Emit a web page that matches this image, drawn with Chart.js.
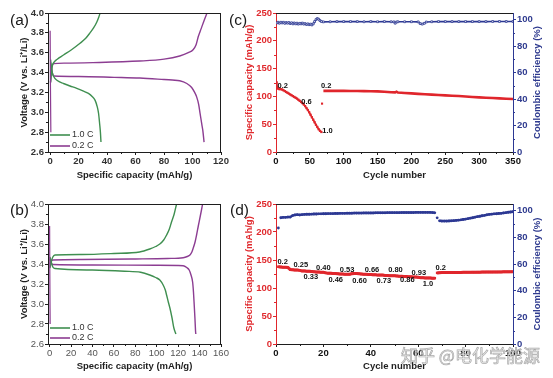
<!DOCTYPE html>
<html><head><meta charset="utf-8">
<script src="https://cdn.jsdelivr.net/npm/chart.js@4.4.1/dist/chart.umd.min.js"></script>
<style>
html,body{margin:0;padding:0;background:#fff;}
body{position:relative;width:553px;height:378px;overflow:hidden;font-family:'Liberation Sans',Arial,sans-serif;}
canvas{position:absolute;}
.pl{position:absolute;font-size:15.5px;line-height:18px;color:#1a1a1a;}
#wm{position:absolute;left:401px;top:344px;font-family:'Noto Sans CJK SC',sans-serif;font-size:17px;line-height:22px;color:rgba(235,235,235,0.85);-webkit-text-stroke:0.7px rgba(150,150,150,0.8);white-space:nowrap;}
</style></head><body>
<canvas id="ca" width="240" height="190" style="left:0;top:0"></canvas>
<canvas id="cb" width="240" height="188" style="left:0;top:190px"></canvas>
<canvas id="cc" width="323" height="190" style="left:230px;top:0"></canvas>
<canvas id="cd" width="323" height="188" style="left:230px;top:190px"></canvas>
<div class="pl" style="left:10px;top:11px">(a)</div>
<div class="pl" style="left:10px;top:201px">(b)</div>
<div class="pl" style="left:229px;top:11px">(c)</div>
<div class="pl" style="left:230px;top:201px">(d)</div>
<div id="wm">知乎 @电化学能源</div>
<script>
// ---------- DATA ----------
// (a) voltage profiles: capacity (mAh/g) and voltage (V)
const aG_chgCap = [0.3,1.2,2.5,5,9.4,15,21,25,28,30.5,32.8,34.2,35.1];
const aG_chgV   = [3.30,3.45,3.50,3.535,3.577,3.63,3.695,3.745,3.80,3.85,3.91,3.96,4.0];
const aG_disCap = [0.3,1.2,2.5,5,9.4,14,18.7,23,26.9,29.5,31.6,33,34,34.8,35.3,35.7];
const aG_disV   = [3.53,3.42,3.36,3.32,3.29,3.265,3.24,3.215,3.19,3.16,3.12,3.06,2.99,2.88,2.80,2.70];
const aP_chgCap = [0.3,1,2.5,10,30,63,80,91,97,100.4,102.5,104,106,107.5,110.2];
const aP_chgV   = [3.30,3.42,3.49,3.495,3.50,3.516,3.535,3.567,3.60,3.63,3.68,3.76,3.84,3.90,4.0];
const aP_disCap = [0.3,1.2,2.5,20,45,63,80,91,96,99.4,101.5,102.9,104.3,105.3,106.5,107.2,108.1];
const aP_disV   = [3.50,3.42,3.365,3.36,3.352,3.345,3.33,3.318,3.29,3.25,3.2,3.155,3.08,2.99,2.88,2.82,2.70];
const aP_spikeCap = [0,0.2,0.5];
const aP_spikeV   = [3.82,3.3,2.80];
// (b)
const bG_chgCap = [0.3,1.5,3,5,30,60,84,93.5,99,102.9,106.5,109.2,111.8,113.8,116.3,118.5];
const bG_chgV   = [3.36,3.42,3.47,3.49,3.495,3.505,3.52,3.55,3.575,3.60,3.64,3.69,3.75,3.82,3.90,4.0];
const bG_disCap = [0.3,1.5,3,5,40,70,85,93.5,99,102.9,106,108,109.2,110.8,112.3,114.3,116,117.9];
const bG_disV   = [3.47,3.42,3.37,3.355,3.34,3.328,3.317,3.29,3.265,3.24,3.19,3.14,3.09,3.02,2.96,2.86,2.76,2.70];
const bP_chgCap = [0.3,1.5,3,30,80,110,124.7,128.5,131,132.8,134.1,135.8,137.2,138.8,140.3,141.6,142.8];
const bP_chgV   = [3.40,3.43,3.44,3.445,3.45,3.455,3.463,3.475,3.49,3.52,3.56,3.62,3.69,3.78,3.86,3.93,4.0];
const bP_disCap = [0.3,1.5,3,40,100,124.7,128,130.3,132,133.5,134.3,135,135.7,136.3,136.5];
const bP_disV   = [3.45,3.41,3.395,3.39,3.387,3.383,3.365,3.34,3.29,3.22,3.12,2.99,2.85,2.72,2.70];
const bP_spikeCap = [0,0.2,0.5];
const bP_spikeV   = [3.78,3.3,2.80];
const legendLabels = ['1.0 C','0.2 C'];

// (c) long cycling
const cRedCycles1 = [1,2,3,5,7,9,11,13,15,17,19,21,23,25,27,29,31,33,35,37,39,41,43,45,47,49,51,53,55,57,59,61,63,65,67];
const cRedCap1    = [125,116,114,113,113,112.5,111,109.5,108,106.5,105,103.5,102,100.5,99,97.5,96,94,92,90,88,85.5,82.5,79,75.5,71.5,67,62.5,58,53.5,49,45,41,38,36];
const cOutCycle = [68];
const cOutCap   = [87];
const cRedCycles2 = [70,80,90,100,110,120,130,140,150,160,170,176,178,180,190,200,210,220,230,240,250,260,270,280,290,300,310,320,330,340,350];
const cRedCap2    = [110,110,110,110,109.8,109.6,109.4,109.2,109,108.4,107.6,107.2,108.5,107,106.2,105.4,104.6,104,103.2,102.5,101.8,101.2,100.6,99.8,99,98.3,97.6,97,96.4,95.8,95.3];
const cCECycles = [1,3,5,7,9,11,13,15,17,19,21,23,25,27,29,31,33,35,37,39,41,43,45,47,49,51,53,55,57,59,61,63,65,67,70,80,90,100,110,120,130,140,150,160,170,174,176,178,180,190,200,210,213,216,219,222,230,240,250,260,270,280,290,300,310,320,330,340,350];
const cCE = [97.5,98,97.3,98,97.5,98,97.2,97.8,97.3,97.8,97,97.6,96.8,97.5,96.8,97.3,96.6,97.2,96.8,97.4,96.6,97,96.3,96.8,96.2,96.6,96,96.8,98.5,100,100.8,100.3,99.3,98.6,98.3,98.4,98.5,98.5,98.5,98.5,98.4,98.5,98.4,98.5,98.4,98.3,97.3,98.2,98.4,98.4,98.4,98.3,97,96.6,97.2,98.2,98.4,98.5,98.5,98.5,98.5,98.5,98.5,98.5,98.5,98.6,98.6,98.6,98.6];
const cRateText  = ['0.2','0.6','1.0','0.2'];
const cRateCycle = [10,45,76,74];
const cRateCap   = [119,90,37,119];

// (d) rate test
const dCycles = Array.from({length:100},(_,i)=>i+1);
const dCap = [138,137.5,137,137,136.5, 133,132.5,132,132,131.5, 130.5,130.5,130,130,129.5, 129,128.5,128.5,128,128,
  127,126.5,126.5,126,126, 125.5,125,125,124.5,124.5, 124.5,125.5,126,126,125.5, 125,124.5,124.5,124,124,
  123.5,123.5,123,123,123, 122.5,122.5,122,122,122, 121.5,121,121,120.5,120.5, 120,120,119.5,119.5,119,
  118.5,118.5,118,118,118,117.5,117.5,
  127,127.3,127.5,127.5,127.5,127.6,127.6,127.7,127.8,127.8,
  127.9,128,128,128,128.1,128.2,128.2,128.3,128.3,128.4,
  128.4,128.5,128.5,128.5,128.6,128.6,128.7,128.7,128.8,128.8,
  128.8,128.9,129];
const dCE = [87, 94.7,95.0,95.0,95.2,95.2, 96.3,96.8,97.0,96.8,
  97.0,97.2,97.3,97.3,97.4,97.5,97.5,97.6,97.6,97.7,
  97.7,97.8,97.8,97.8,97.9,97.9,98.0,98.0,98.0,98.1,
  98.1,98.1,98.2,98.2,98.2,98.2,98.3,98.3,98.3,98.3,
  98.3,98.4,98.4,98.4,98.4,98.4,98.5,98.5,98.5,98.5,
  98.5,98.5,98.6,98.6,98.6,98.6,98.6,98.6,98.7,98.7,
  98.7,98.7,98.7,98.7,98.7,98.6,98.4,
  94.6,
  92.4,92.2,92.2,92.2,92.3,92.4,92.5,92.7,92.9,93.1,93.4,93.7,
  94.0,94.4,94.7,95.1,95.5,95.8,96.2,96.5,96.9,97.2,
  97.4,97.6,97.7,97.9,98.0,98.3,98.5,98.8,99.0,99.2];
const dRateText  = ['0.2','0.25','0.33','0.40','0.46','0.53','0.60','0.66','0.73','0.80','0.86','0.93','1.0','0.2'];
const dRateCycle = [2.8,10.5,14.7,20,25.2,30,35.3,40.5,45.5,50.4,55.4,60.3,64.1,69.5];
const dRateCap   = [146,141,120,136,115,133,113,132,113,132,114,127,108,135];

// ---------- STYLE / BUILD ----------
const FONT = "'Liberation Sans', Arial, Helvetica, sans-serif";
Chart.defaults.font.family = FONT;
const GREEN='#3f8f50', PURPLE='#8c3d92', RED='#e0262c', BLUE='#2c3893', REDTXT='#e02a2e', BLUETXT='#2f3b8f', INK='#1e1e1e';

const pts = (xs, ys) => xs.map((x,i)=>({x, y: ys[i]}));
const f = (size, bold) => ({family: FONT, size, weight: bold ? 'bold' : 'normal'});

function drawMinor(ctx, scale, color){
  const t = scale.ticks;
  ctx.strokeStyle = color; ctx.lineWidth = 1;
  ctx.beginPath();
  for (let i = 0; i < t.length - 1; i++){
    const p = Math.round(scale.getPixelForValue((t[i].value + t[i+1].value)/2)) + 0.5;
    if (scale.isHorizontal()){ ctx.moveTo(p, scale.top); ctx.lineTo(p, scale.top + 2); }
    else if (scale.position === 'left'){ ctx.moveTo(scale.right, p); ctx.lineTo(scale.right - 2, p); }
    else { ctx.moveTo(scale.left, p); ctx.lineTo(scale.left + 2, p); }
  }
  ctx.stroke();
}

function deco(opt){
  return {
    id:'deco',
    afterDraw(chart){
      const {ctx, chartArea:a} = chart;
      ctx.save();
      ctx.strokeStyle = INK; ctx.lineWidth = 1;
      ctx.beginPath();
      const t = Math.round(a.top)+0.5;
      ctx.moveTo(a.left, t); ctx.lineTo(a.right, t);
      if (opt.rightFrame){ const r = Math.round(a.right)-0.5; ctx.moveTo(r, a.top); ctx.lineTo(r, a.bottom); }
      ctx.stroke();
      Object.values(chart.scales).forEach(s => drawMinor(ctx, s, (opt.axisColors||{})[s.id] || INK));
      (opt.legend||[]).forEach(it=>{
        ctx.strokeStyle = it.color; ctx.lineWidth = 1.6;
        ctx.beginPath(); ctx.moveTo(50, it.y); ctx.lineTo(70, it.y); ctx.stroke();
        ctx.fillStyle = '#333'; ctx.font = '9px '+FONT; ctx.textBaseline='middle'; ctx.textAlign='left';
        ctx.fillText(it.label, 72, it.y);
      });
      if (opt.notes){
        const xs = chart.scales.x, ys = chart.scales.y, n = opt.notes;
        ctx.fillStyle = '#111'; ctx.font = 'bold '+n.size+'px '+FONT; ctx.textAlign='center'; ctx.textBaseline='middle';
        n.text.forEach((s,i)=> ctx.fillText(s, xs.getPixelForValue(n.x[i]), ys.getPixelForValue(n.y[i])));
      }
      if (opt.rightTitle){
        ctx.fillStyle = BLUETXT; ctx.font = 'bold 9.5px '+FONT; ctx.textAlign='center'; ctx.textBaseline='middle';
        ctx.translate(opt.rightTitleX, (a.top+a.bottom)/2); ctx.rotate(-Math.PI/2);
        ctx.fillText(opt.rightTitle, 0, 0);
      }
      ctx.restore();
    }
  };
}

function lineDS(xs, ys, color, w){
  return {data: pts(xs, ys), borderColor: color, borderWidth: w||1.4, showLine: true, pointRadius: 0,
          cubicInterpolationMode: 'monotone', fill:false};
}

function voltageChart(id, pad, yW, xH, xMax, xStep, sets, legendY, bold, tickColor){
  new Chart(document.getElementById(id), {
    type: 'scatter',
    data: {datasets: sets},
    options: {
      responsive:false, animation:false,
      layout:{padding: pad},
      plugins:{legend:{display:false}, tooltip:{enabled:false}},
      scales:{
        x:{type:'linear', min:-1.5, max:xMax,
           ticks:{stepSize:xStep, includeBounds:false, font:f(9.5,bold), color:tickColor, padding:1, maxRotation:0},
           grid:{drawOnChartArea:false, tickLength:3, color:INK}, border:{color:INK},
           title:{display:true, text:'Specific capacity (mAh/g)', font:f(9.5,true), color:INK, padding:{top:0,bottom:4}},
           afterFit:s=>{s.height=xH;}},
        y:{type:'linear', min:2.6, max:4.0,
           ticks:{stepSize:0.2, font:f(9.5,bold), color:tickColor, padding:1, callback:v=>v.toFixed(1)},
           grid:{drawOnChartArea:false, tickLength:3, color:INK}, border:{color:INK},
           title:{display:true, text:'Voltage (V vs. Li\u207A/Li)', font:f(9.5,true), color:INK, padding:{top:4,bottom:0}},
           afterFit:s=>{s.width=yW;}}
      }
    },
    plugins:[deco({rightFrame:true, legend:[{label:legendLabels[0], color:GREEN, y:legendY[0]},{label:legendLabels[1], color:PURPLE, y:legendY[1]}]})]
  });
}

voltageChart('ca', {left:15, top:13, right:19, bottom:5}, 33, 33, 120, 20, [
  lineDS(aP_spikeCap, aP_spikeV, PURPLE, 1.2),
  lineDS(aG_chgCap, aG_chgV, GREEN), lineDS(aG_disCap, aG_disV, GREEN),
  lineDS(aP_chgCap, aP_chgV, PURPLE), lineDS(aP_disCap, aP_disV, PURPLE)
], [135,146], true, '#333');

voltageChart('cb', {left:15, top:14, right:19, bottom:2}, 33, 32, 160, 20, [
  lineDS(bP_spikeCap, bP_spikeV, PURPLE, 1.2),
  lineDS(bG_chgCap, bG_chgV, GREEN), lineDS(bG_disCap, bG_disV, GREEN),
  lineDS(bP_chgCap, bP_chgV, PURPLE), lineDS(bP_disCap, bP_disV, PURPLE)
], [138,148], false, '#555');

function gapSeg(color, thr){
  return {borderColor: c => Math.abs(c.p1.parsed.y - c.p0.parsed.y) > thr ? 'rgba(0,0,0,0)' : color};
}

function cycleChart(id, pad, xH, xMax, xStep, sets, notes){
  new Chart(document.getElementById(id), {
    type:'scatter',
    data:{datasets:sets},
    options:{
      responsive:false, animation:false,
      layout:{padding:pad},
      plugins:{legend:{display:false}, tooltip:{enabled:false}},
      scales:{
        x:{type:'linear', min:0, max:xMax,
           ticks:{stepSize:xStep, font:f(9.5,true), color:'#111', padding:1, maxRotation:0},
           grid:{drawOnChartArea:false, tickLength:3, color:INK}, border:{color:INK},
           title:{display:true, text:'Cycle number', font:f(9.5,true), color:INK, padding:{top:0,bottom:4}},
           afterFit:s=>{s.height=xH;}},
        y:{type:'linear', position:'left', min:0, max:250,
           ticks:{stepSize:50, font:f(9.5,true), color:REDTXT, padding:1},
           grid:{drawOnChartArea:false, tickLength:3, color:RED}, border:{color:RED},
           title:{display:true, text:'Specific capacity (mAh/g)', font:f(9.5,true), color:REDTXT, padding:{top:4,bottom:0}},
           afterFit:s=>{s.width=36;}},
        y1:{type:'linear', position:'right', min:0, max:105,
           ticks:{stepSize:20, includeBounds:false, font:f(9.5,true), color:BLUETXT, padding:1},
           grid:{drawOnChartArea:false, tickLength:3, color:BLUE}, border:{color:BLUE},
           afterFit:s=>{s.width=40;}}
      }
    },
    plugins:[deco({notes, axisColors:{y:RED, y1:BLUE}, rightTitle:'Coulombic efficiency (%)', rightTitleX:307})]
  });
}

cycleChart('cc', {left:10, top:13, right:0, bottom:5}, 33, 350, 50, [
  {data:pts(cCECycles,cCE), yAxisID:'y1', showLine:true, borderColor:BLUE, borderWidth:1.6, pointRadius:1.3,
   pointStyle:'rect', pointBackgroundColor:'#fff', pointBorderColor:BLUE, pointBorderWidth:0.8},
  {data:pts(cRedCycles1,cRedCap1), yAxisID:'y', showLine:true, borderColor:RED, borderWidth:1.6, pointRadius:1.6,
   pointStyle:'rect', pointBackgroundColor:RED, pointBorderWidth:0},
  {data:pts(cOutCycle,cOutCap), yAxisID:'y', pointRadius:1.5, pointStyle:'rect', pointBackgroundColor:RED, pointBorderWidth:0},
  {data:pts(cRedCycles2,cRedCap2), yAxisID:'y', showLine:true, borderColor:RED, borderWidth:2.6, pointRadius:0}
], {text:cRateText, x:cRateCycle, y:cRateCap, size:7.5});

cycleChart('cd', {left:10, top:14, right:0, bottom:2}, 32, 100, 20, [
  {data:pts(dCycles,dCE), yAxisID:'y1', showLine:true, borderColor:BLUE, borderWidth:2.4, pointRadius:1.4,
   pointBackgroundColor:BLUE, pointBorderWidth:0, segment:gapSeg(BLUE,2)},
  {data:pts(dCycles,dCap), yAxisID:'y', showLine:true, borderColor:RED, borderWidth:3, pointRadius:1.8,
   pointStyle:'rect', pointBackgroundColor:RED, pointBorderWidth:0, segment:gapSeg(RED,5)}
], {text:dRateText, x:dRateCycle, y:dRateCap, size:7.5});
</script>
</body></html>
